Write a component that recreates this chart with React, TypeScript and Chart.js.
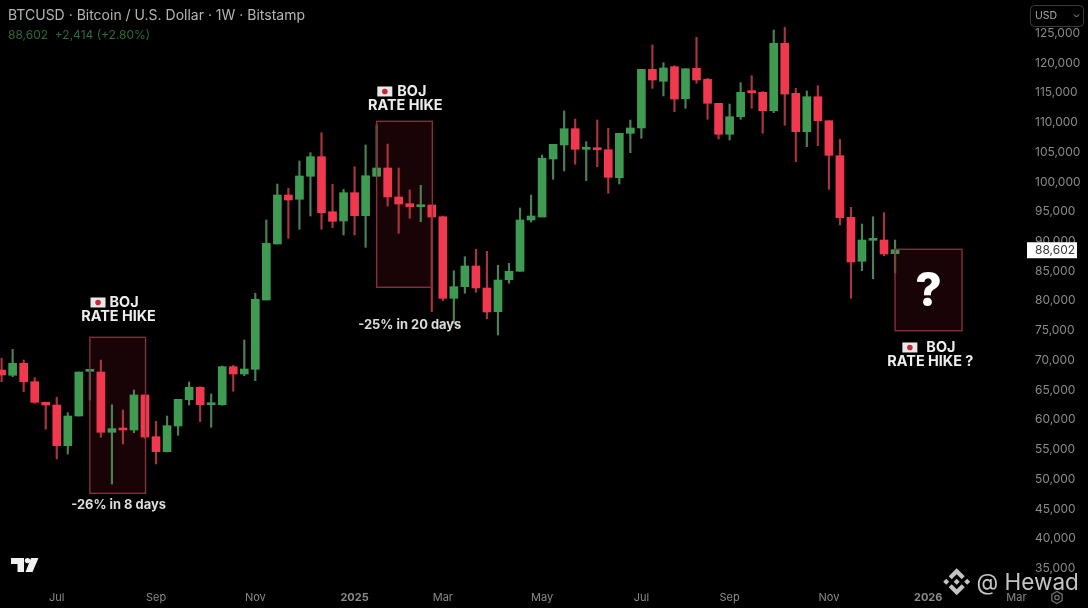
import React, { useEffect, useRef } from "react";
import { Chart, registerables } from "chart.js";

Chart.register(...registerables);

const opens = [68370,67480,69500,66400,62940,62480,55640,60630,68150,68030,57890,58560,58280,64170,57150,54630,58950,63370,65460,62530,62530,68930,67700,68490,80150,89570,97810,97090,100960,104260,95000,93440,98200,94330,100960,102360,97480,96350,95840,96130,94160,80430,82390,85870,82170,78180,83560,84980,93610,94110,103870,106230,108970,105500,105670,105430,100720,108190,109090,118960,116940,119400,114010,119130,117280,113240,108030,110990,115260,115090,112000,123340,114920,108460,114350,110310,104430,94060,86660,90190,90240,87940];
const closes = [67530,69500,66400,62940,62480,55640,60630,68030,68200,57890,58500,58280,64170,57100,54630,59000,63440,65460,62530,62770,68930,67700,68540,80270,89690,97810,96970,101010,104260,94840,93390,98200,94330,101060,102360,97480,96300,95840,96130,94110,80430,82390,85870,82170,78130,83510,84980,93610,94280,103990,106340,108970,105500,105720,105430,100790,108190,109090,118960,117160,119180,113960,119060,117160,113240,108030,110990,115090,115020,112000,123340,114800,108460,114350,110310,104490,93990,86540,90240,90360,87890,88602];
const highs = [70340,71850,70050,67080,62990,63780,61190,68030,68370,70050,62530,61640,65010,64170,59740,60630,63350,66350,65560,64330,69040,69160,73420,81280,93610,99660,98940,103530,104930,108290,99610,98770,102570,106230,109590,106390,102360,98650,99450,96130,94280,85080,87430,88680,88340,85990,86320,95630,97810,104540,106340,111950,110600,106780,110430,109040,108190,110430,118960,123050,120070,119570,119060,124340,117450,113240,113120,116710,117880,115190,125570,126030,115760,115310,116200,110310,107180,95740,92930,94160,94840,90240];
const lows = [66400,67240,64720,62770,58390,53400,54240,60630,63320,57050,49190,55920,57820,56880,52560,54580,57390,62480,59670,58730,62430,64790,67410,66570,80150,89570,90530,92040,94280,92040,92310,91080,91080,89010,100900,95960,91370,93890,93320,78180,80030,76230,81280,81440,77000,74260,82960,84980,93270,94110,100450,101850,102980,100220,102570,98100,99660,104930,107350,115760,114470,111830,112400,116610,110550,107230,107070,110550,112400,108190,111660,109540,103420,105940,106110,98770,92770,80430,85080,83730,87600,84690];

const yTicks = [35000,40000,45000,50000,55000,60000,65000,70000,75000,80000,85000,90000,95000,100000,105000,110000,115000,120000,125000];
const xTickWeeks = [5,14,23,32,40,49,58,66,75,84,92];
const xTickLabels = ["Jul","Sep","Nov","2025","Mar","May","Jul","Sep","Nov","2026","Mar"];
const yearLabels = ["2025","2026"];

const lastPrice = 88602;
const titleText = "BTCUSD · Bitcoin / U.S. Dollar · 1W · Bitstamp";
const quoteText = "88,602  +2,414 (+2.80%)";

const hikeFrom = [8,34,81];
const hikeTo = [13.05,39.05,87.07];
const hikeTop = [73870,110210,88680];
const hikeBottom = [47630,82290,74980];
const hikeLabelWeek = [10.6,36.6,84.2];
const hikeLabelPrice = [77290,112790,69720];
const hikeLabelText = ["RATE HIKE","RATE HIKE","RATE HIKE ?"];
const bojOffset = [-9,-8,-4];
const captionWeek = [10.6,37];
const captionPrice = [45660,75940];
const captionText = ["-26% in 8 days","-25% in 20 days"];

const UP = "#3f9a52";
const DOWN = "#f0394f";
const UP_WICK = "#4c8058";
const DOWN_WICK = "#a8343f";
const FONT = "Inter";

const overlay = {
  id: "overlay",
  beforeDatasetsDraw(chart: any) {
    const { ctx, scales } = chart;
    ctx.save();
    hikeFrom.forEach((f, i) => {
      const l = scales.x.getPixelForValue(f), r = scales.x.getPixelForValue(hikeTo[i]);
      const t = scales.y.getPixelForValue(hikeTop[i]), b = scales.y.getPixelForValue(hikeBottom[i]);
      ctx.fillStyle = "rgba(120,18,28,0.2)";
      ctx.fillRect(l, t, r - l, b - t);
    });
    ctx.restore();
  },
  afterDatasetsDraw(chart: any) {
    const { ctx, scales } = chart;
    const xs = scales.x, ys = scales.y;
    ctx.save();
    hikeFrom.forEach((f, i) => {
      const l = xs.getPixelForValue(f), r = xs.getPixelForValue(hikeTo[i]);
      const t = ys.getPixelForValue(hikeTop[i]), b = ys.getPixelForValue(hikeBottom[i]);
      ctx.strokeStyle = "#83303a";
      ctx.lineWidth = 1.4;
      ctx.strokeRect(l, t, r - l, b - t);
    });
    ctx.textBaseline = "middle";
    ctx.textAlign = "center";
    hikeLabelText.forEach((txt, i) => {
      const cx = xs.getPixelForValue(hikeLabelWeek[i]);
      const y = ys.getPixelForValue(hikeLabelPrice[i]);
      ctx.fillStyle = "#ededed";
      ctx.font = `700 14.4px ${FONT}`;
      ctx.fillText(txt, cx, y);
      const by = y - 14.5;
      ctx.textAlign = "left";
      ctx.fillText("BOJ", cx + bojOffset[i], by);
      ctx.textAlign = "center";
      ctx.fillStyle = "#e8e8e8";
      ctx.fillRect(cx - 28, by - 5, 15, 10);
      ctx.fillStyle = "#c8283a";
      ctx.beginPath();
      ctx.arc(cx - 20.5, by, 2.8, 0, Math.PI * 2);
      ctx.fill();
    });
    ctx.fillStyle = "#dcdcdc";
    ctx.font = `700 12.9px ${FONT}`;
    captionText.forEach((txt, i) => {
      ctx.fillText(txt, xs.getPixelForValue(captionWeek[i]), ys.getPixelForValue(captionPrice[i]));
    });
    ctx.fillStyle = "#ffffff";
    ctx.font = `800 46px ${FONT}`;
    ctx.fillText("?", (xs.getPixelForValue(hikeFrom[2]) + xs.getPixelForValue(hikeTo[2])) / 2, (ys.getPixelForValue(hikeTop[2]) + ys.getPixelForValue(hikeBottom[2])) / 2 + 2);

    // header
    ctx.textAlign = "left";
    ctx.fillStyle = "#b4b4b4";
    ctx.font = `400 14px ${FONT}`;
    ctx.fillText(titleText, 8, 15.5);
    ctx.fillStyle = "#2e6b3a";
    ctx.font = `400 12px ${FONT}`;
    ctx.fillText(quoteText, 8, 35.5);

    // TV logo
    ctx.fillStyle = "#f0f0f0";
    ctx.beginPath();
    ctx.moveTo(11, 558); ctx.lineTo(24, 558); ctx.lineTo(24, 572); ctx.lineTo(17.5, 572); ctx.lineTo(17.5, 564); ctx.lineTo(11, 564);
    ctx.closePath(); ctx.fill();
    ctx.beginPath(); ctx.arc(27.5, 560.6, 2.7, 0, Math.PI * 2); ctx.fill();
    ctx.beginPath();
    ctx.moveTo(31, 558); ctx.lineTo(38.5, 558); ctx.lineTo(32.5, 572); ctx.lineTo(25.5, 572);
    ctx.closePath(); ctx.fill();
    ctx.restore();
  },
  afterDraw(chart: any) {
    const { ctx, scales, chartArea } = chart;
    ctx.save();
    // last price tag
    const py = scales.y.getPixelForValue(lastPrice);
    ctx.fillStyle = "#ffffff";
    ctx.fillRect(chartArea.right + 1, py - 7.5, 50, 16);
    ctx.fillStyle = "#3a3a3a";
    ctx.font = `400 12px ${FONT}`;
    ctx.textAlign = "left";
    ctx.textBaseline = "middle";
    ctx.fillText("88,602", chartArea.right + 9, py + 1);

    // currency button
    ctx.strokeStyle = "#3c3c3c";
    ctx.lineWidth = 1;
    ctx.beginPath();
    ctx.roundRect(1030.5, 5.5, 53, 21, 4);
    ctx.stroke();
    ctx.fillStyle = "#a8a8a8";
    ctx.font = `400 10.5px ${FONT}`;
    ctx.fillText("USD", 1035, 16);
    ctx.strokeStyle = "#a8a8a8";
    ctx.beginPath();
    ctx.moveTo(1074, 14.5); ctx.lineTo(1076.5, 17); ctx.lineTo(1079, 14.5);
    ctx.stroke();

    // gear
    ctx.strokeStyle = "#6e6e6e";
    ctx.lineWidth = 1.3;
    ctx.beginPath();
    for (let k = 0; k < 6; k++) {
      const a = Math.PI / 6 + (k * Math.PI) / 3;
      const px = 1057 + 6 * Math.cos(a), pyy = 597.5 + 6 * Math.sin(a);
      if (k === 0) ctx.moveTo(px, pyy); else ctx.lineTo(px, pyy);
    }
    ctx.closePath();
    ctx.stroke();
    ctx.beginPath(); ctx.arc(1057, 597.5, 2.2, 0, Math.PI * 2); ctx.stroke();

    // watermark
    const mx = 956.7, my = 581.7;
    ctx.fillStyle = "#c4c4c4";
    const poly = (pts: number[][]) => {
      ctx.beginPath();
      pts.forEach(([a, b], k) => (k ? ctx.lineTo(mx + a, my + b) : ctx.moveTo(mx + a, my + b)));
      ctx.closePath();
      ctx.fill();
    };
    poly([[-8,-5.5],[0,-13.5],[8,-5.5],[5,-2.5],[0,-7.5],[-5,-2.5]]);
    poly([[-8,5.5],[0,13.5],[8,5.5],[5,2.5],[0,7.5],[-5,2.5]]);
    poly([[0,-3],[3,0],[0,3],[-3,0]]);
    poly([[-10.5,-3],[-7.5,0],[-10.5,3],[-13.5,0]]);
    poly([[10.5,-3],[13.5,0],[10.5,3],[7.5,0]]);
    ctx.font = `400 22.5px ${FONT}`;
    ctx.textBaseline = "alphabetic";
    ctx.fillText("@ Hewad", 976.5, 590);
    ctx.restore();
  },
};

export default function App() {
  const ref = useRef<HTMLCanvasElement>(null);
  useEffect(() => {
    if (!ref.current) return;
    const isUp = closes.map((c, i) => c >= opens[i]);
    const chart = new Chart(ref.current, {
      type: "bar",
      data: {
        datasets: [
          {
            label: "Body",
            data: opens.map((o, i) => ({ x: i, y: [o, closes[i]] })) as any,
            backgroundColor: isUp.map((u) => (u ? UP : DOWN)),
            barThickness: 8,
            minBarLength: 2,
            grouped: false,
            order: 1,
          } as any,
          {
            label: "Wick",
            data: lows.map((l, i) => ({ x: i, y: [l, highs[i]] })) as any,
            backgroundColor: isUp.map((u) => (u ? UP_WICK : DOWN_WICK)),
            barThickness: 1.5,
            grouped: false,
            order: 2,
          } as any,
        ],
      },
      options: {
        animation: false,
        responsive: false,
        devicePixelRatio: 1,
        layout: { padding: 0 },
        plugins: { legend: { display: false }, tooltip: { enabled: false }, title: { display: false } },
        scales: {
          x: {
            type: "linear",
            min: -0.145,
            max: 92.87,
            offset: false,
            grid: { display: false, drawTicks: false },
            border: { display: false },
            afterBuildTicks: (s: any) => {
              s.ticks = xTickWeeks.map((value) => ({ value }));
            },
            afterFit: (s: any) => {
              s.height = 22;
              s.paddingLeft = 0;
              s.paddingRight = 0;
            },
            ticks: {
              autoSkip: false,
              maxRotation: 0,
              minRotation: 0,
              padding: 5,
              color: "#8a8a8a",
              font: (c: any) => ({
                family: FONT,
                size: 11,
                weight: yearLabels.includes(xTickLabels[xTickWeeks.indexOf(c.tick?.value)]) ? 700 : 400,
              }),
              callback: (v: any) => xTickLabels[xTickWeeks.indexOf(v)] ?? "",
            },
          },
          y: {
            position: "right",
            min: 32030,
            max: 130620,
            grid: { display: false, drawTicks: false },
            border: { display: false },
            afterBuildTicks: (s: any) => {
              s.ticks = yTicks.map((value) => ({ value }));
            },
            afterFit: (s: any) => {
              s.width = 62;
              s.paddingTop = 0;
              s.paddingBottom = 0;
            },
            ticks: {
              padding: 9,
              color: "#8a8a8a",
              font: { family: FONT, size: 12 },
              callback: (v: any) => Number(v).toLocaleString("en-US"),
            },
          },
        },
      } as any,
      plugins: [overlay],
    });
    return () => chart.destroy();
  }, []);
  return (
    <div style={{ position: "fixed", left: 0, top: 0, width: 1088, height: 608, background: "#000" }}>
      <canvas ref={ref} width={1088} height={608} style={{ display: "block", width: 1088, height: 608 }} />
    </div>
  );
}
